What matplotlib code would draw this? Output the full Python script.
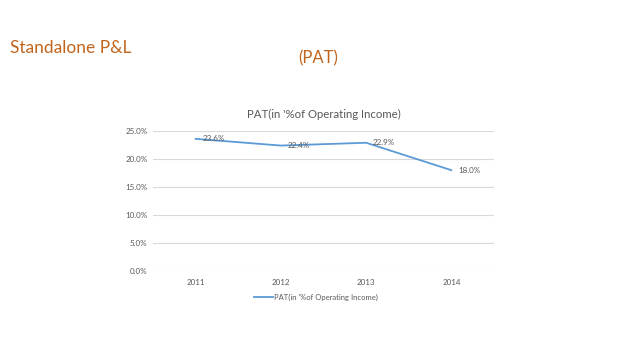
import matplotlib
matplotlib.use("Agg")
import matplotlib.pyplot as plt
from matplotlib.ticker import PercentFormatter

years = ["2011", "2012", "2013", "2014"]
pat_pct = [23.6, 22.4, 22.9, 18.0]
series_name = "PAT(in '%of Operating Income)"

plt.rcParams["font.family"] = ["Lato", "DejaVu Sans"]

fig = plt.figure(figsize=(6.38, 3.59), dpi=100)
fig.patch.set_facecolor("white")

# slide heading
fig.text(10 / 638, 1 - 48 / 359, "Standalone P&L", color="#C0651E",
         fontsize=12.5, va="center", ha="left")
fig.text(318 / 638, 1 - 58 / 359, "(PAT)", color="#C0651E",
         fontsize=12, va="center", ha="center")

ax = fig.add_axes([153 / 638, 1 - 271 / 359, 341 / 638, 140 / 359])
x = list(range(len(years)))
ax.plot(x, pat_pct, color="#5B9BD5", linewidth=1.3, label=series_name)

for xi, v in zip(x, pat_pct):
    ax.annotate(f"{v:.1f}%", (xi, v), xytext=(5, 0), textcoords="offset points",
                ha="left", va="center", fontsize=5.8, color="#595959")

ax.set_xlim(-0.5, len(years) - 0.5)
ax.set_ylim(0, 25)
ax.set_yticks([0, 5, 10, 15, 20, 25])
ax.yaxis.set_major_formatter(PercentFormatter(decimals=1))
ax.set_xticks(x)
ax.set_xticklabels(years)
ax.tick_params(length=0, labelsize=5.8, labelcolor="#595959")
ax.tick_params(axis="x", pad=6)
ax.tick_params(axis="y", pad=4)
ax.grid(axis="y", color="#D9D9D9", linewidth=0.8)
ax.set_axisbelow(True)
for s in ax.spines.values():
    s.set_visible(False)

ax.set_title(series_name, fontsize=8.2, color="#595959", pad=9)

fig.legend(loc="center", bbox_to_anchor=(316 / 638, 1 - 297 / 359),
           frameon=False, fontsize=5.5, labelcolor="#595959",
           handlelength=2.5, handletextpad=0.2)

fig.savefig("out.png", dpi=100)
